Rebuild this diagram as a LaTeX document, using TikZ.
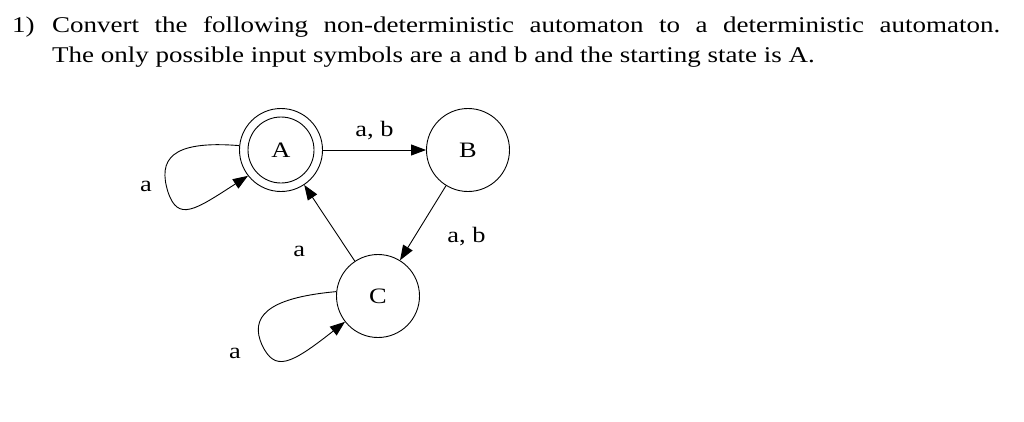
\documentclass[tikz,border=0pt]{standalone}
\usepackage{fontspec}
\setmainfont[FakeStretch=1.2]{Liberation Serif}
\usetikzlibrary{arrows.meta}
\begin{document}
\begin{tikzpicture}[x=1pt,y=-1pt,
  st/.style={circle,draw,line width=0.9pt,minimum size=83pt,inner sep=0pt,font=\fontsize{22}{24}\selectfont},
  lbl/.style={font=\fontsize{22}{24}\selectfont,inner sep=0pt},
  ed/.style={line width=0.9pt,-{Triangle[length=15pt,width=11pt]}}]
\useasboundingbox (0,0) rectangle (1024,421);
\node[anchor=base west,inner sep=0pt,font=\fontsize{22.5}{30}\selectfont] (n1) at (12,32) {1)};
\node[anchor=base west,inner sep=0pt,font=\fontsize{22.5}{30}\selectfont,text width=948pt,align=justify] (t) at (52,32)
 {Convert the following non-deterministic automaton to a deterministic automaton.\linebreak The only possible input symbols are a and b and the starting state is A.};
\node[st] (A) at (281,150) {A};
\node[circle,draw,line width=0.9pt,minimum size=66pt] (Ai) at (281,150) {};
\node[st] (B) at (468,150) {B};
\node[st] (C) at (378,296) {C};
\draw[ed] (A) -- node[lbl,above=10pt]{a, b} (B);
\draw[ed] (B) -- node[lbl,right=24pt,yshift=-14pt]{a, b} (C);
\draw[ed] (C) -- node[lbl,left=24pt,yshift=-28pt]{a} (A);
\draw[ed] (A.174) .. controls (170,140) and (158,160) .. (168,192) .. controls (178,222) and (195,210) .. (A.218);
\node[lbl] (la) at (146,186) {a};
\draw[ed] (C.174) .. controls (265,298) and (250,318) .. (262,345) .. controls (275,372) and (290,365) .. (C.218);
\node[lbl] (lc) at (235,353) {a};
\end{tikzpicture}
\end{document}
